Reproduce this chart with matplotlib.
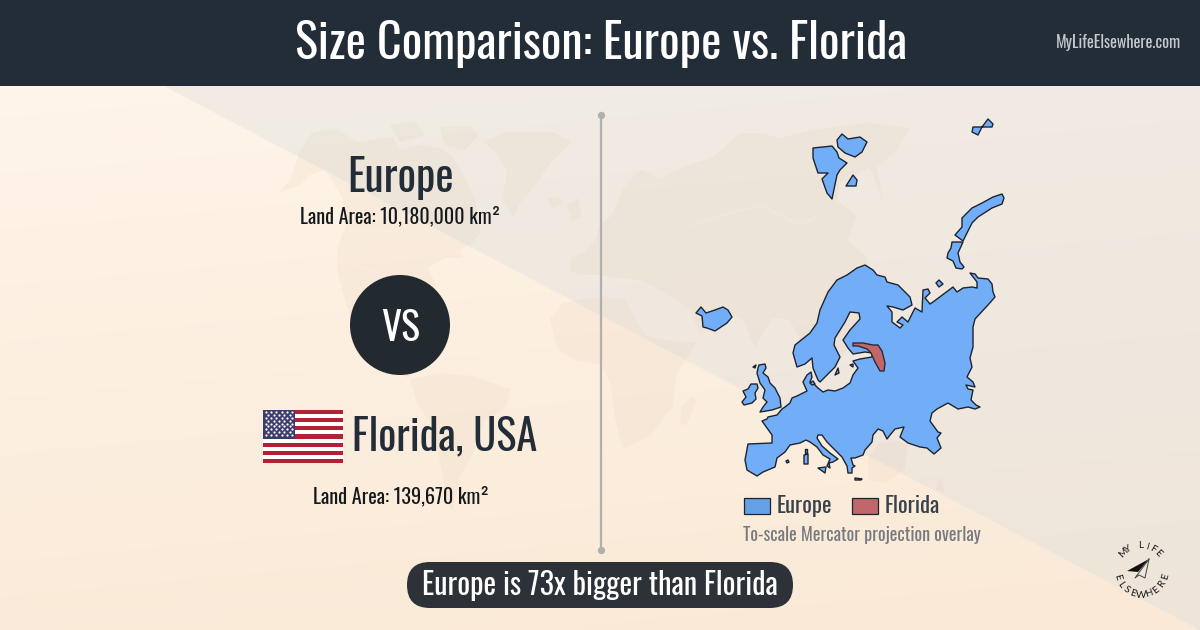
import numpy as np
import matplotlib
matplotlib.use("Agg")
import matplotlib.pyplot as plt
from matplotlib.patches import Rectangle, Circle, FancyBboxPatch
from matplotlib.textpath import TextPath
from matplotlib.font_manager import FontProperties, fontManager

TITLE = "Size Comparison: Europe vs. Florida"
SITE = "MyLifeElsewhere.com"
NAME_A = "Europe"
NAME_B = "Florida, USA"
AREA_A = "Land Area: 10,180,000 km²"
AREA_B = "Land Area: 139,670 km²"
VERDICT = "Europe is 73x bigger than Florida"
LEGEND_A = "Europe"
LEGEND_B = "Florida"
NOTE = "To-scale Mercator projection overlay"

# Outlines
europe_main = [(762,421),(767,419),(768,417),(777,415),(782,409),(785,407),(790,403),(792,398),(797,396),(803,393),(807,391),
 (803,382),(807,375),(811,372),(812,377),(810,382),(815,385),(818,388),(823,392),(828,390),(835,391),(843,388),(850,383),(853,375),
 (858,368),(853,361),(860,359),(872,357),(872,353),(865,352),(853,354),(848,348),(843,340),(850,330),(860,319),(859,313),(850,312),
 (845,322),(835,338),(834,345),(840,357),(835,367),(827,375),(820,382),(818,380),(813,368),(812,358),(805,364),(797,367),(793,353),
 (795,345),(805,337),(810,333),(817,323),(820,310),(828,292),(837,280),(847,275),(857,268),(865,265),(873,270),(877,275),(885,277),
 (887,282),(898,285),(910,297),(912,305),(903,310),(893,307),(887,306),(892,312),(892,322),(900,328),(903,325),(897,322),(902,317),
 (908,322),(915,308),(922,312),(923,290),(928,289),(930,293),(925,298),(930,304),(933,302),(953,287),(957,292),(963,288),(972,287),
 (977,288),(977,282),(970,273),(975,274),(978,278),(988,279),(992,284),(993,292),(995,297),(988,305),(975,319),(973,327),(973,347),
 (970,358),(972,367),(967,377),(973,382),(975,387),(966,385),(968,389),(973,390),(971,400),(976,405),(980,407),(975,409),(968,407),
 (958,409),(948,403),(937,409),(932,413),(930,421),(938,432),(941,433),(937,438),(941,448),(934,454),(927,448),(920,447),(908,443),
 (900,437),(904,427),(895,429),(890,435),(887,439),(883,431),(878,429),(873,435),(872,442),(865,450),(863,455),(855,458),(851,458),
 (853,465),(855,466),(852,468),(852,473),(848,473),(847,466),(842,457),(835,450),(827,442),(822,435),(818,435),(817,438),(822,446),
 (830,453),(838,459),(833,462),(829,463),(830,468),(827,466),(830,459),(823,455),(817,447),(810,442),(806,440),(800,443),(790,445),
 (785,452),(777,458),(775,467),(763,472),(757,476),(747,470),(745,460),(748,444),(772,443),(772,435)]
great_britain = [(758,368),(759,365),(765,364),(766,368),(763,373),(768,377),(770,383),(775,388),(780,398),(781,407),(772,410),(760,412),(763,407),(767,402),(763,398),(765,390),(760,383),(757,373)]
ireland = [(751,384),(757,384),(758,388),(755,393),(756,399),(752,403),(744,405),(742,402),(746,397),(743,391),(748,389)]
shetland = [(753,367),(756,365),(755,368)]
iceland = [(696,313),(701,307),(706,313),(715,310),(723,307),(728,310),(732,317),(727,323),(715,331),(707,328),(703,327),(702,316)]
svalbard_a = [(813,148),(832,146),(837,152),(839,158),(847,163),(840,170),(837,175),(832,199),(827,193),(822,179),(828,173),(818,173),(813,158)]
svalbard_b = [(837,140),(842,134),(848,139),(860,137),(867,142),(862,152),(855,157),(845,153),(838,147)]
svalbard_c = [(846,186),(853,175),(857,180),(856,186)]
franz_josef = [(973,127),(982,127),(988,119),(993,124),(992,127),(982,127),(978,135),(972,132)]
novaya_n = [(955,235),(962,227),(962,218),(972,208),(982,203),(993,197),(1002,194),(1004,198),(1002,204),(992,208),(978,217),(972,223),(963,241)]
novaya_s = [(952,242),(963,242),(958,253),(960,262),(964,267),(962,269),(956,268),(953,261),(947,258),(948,253),(951,248)]
kolguev = [(936,283),(939,280),(943,284),(939,287)]
gotland = [(835,375),(838,368),(839,373)]
saaremaa = [(850,365),(853,364),(853,367)]
zealand = [(810,383),(813,381),(815,384),(812,385)]
sicily = [(818,468),(826,467),(825,473)]
sardinia = [(804,455),(808,454),(808,464),(804,464)]
corsica = [(805,449),(807,449),(807,453),(805,453)]
mallorca = [(786,461),(788,460),(789,462),(787,463)]
crete = [(855,478),(862,479),(861,480),(855,480)]
europe_parts = [europe_main, great_britain, ireland, shetland, iceland, svalbard_a, svalbard_b, svalbard_c, franz_josef,
                novaya_n, novaya_s, kolguev, gotland, saaremaa, zealand, sicily, sardinia, corsica, mallorca, crete]
florida = [(853,343),(863,343),(873,345),(878,345),(882,351),(885,363),(884,371),(880,371),(875,362),(871,353),(867,349),(858,346),(853,346)]

world_n_america = [(293,172),(300,150),(312,133),(335,128),(357,142),(393,137),(400,150),(420,145),(440,148),(453,157),(465,178),(475,200),(481,232),(472,243),(460,250),(463,258),(445,258),(428,268),(436,285),(430,292),(420,280),(400,280),(385,283),(375,300),(385,330),(395,340),(395,360),(415,372),(408,378),(395,370),(375,355),(355,330),(345,300),(337,270),(337,248),(345,228),(343,198),(325,170),(310,175),(300,185),(280,192),(290,180)]
world_baffin = [(440,127),(470,126),(478,136),(465,150),(445,145)]
world_arctic = [(390,125),(415,122),(425,135),(400,142)]
world_greenland = [(483,142),(507,132),(553,132),(572,142),(550,163),(537,183),(520,203),(513,217),(503,200),(507,170),(497,153)]
world_iceland = [(547,199),(560,197),(563,204),(553,208)]
world_s_america = [(410,379),(440,373),(473,376),(510,389),(507,406),(483,423),(473,453),(460,476),(453,509),(460,513),(450,509),(440,463),(433,426),(417,403)]
world_africa = [(550,319),(563,303),(600,296),(625,300),(646,336),(665,340),(696,343),(677,373),(673,406),(650,436),(623,449),(615,419),(611,386),(602,365),(575,360),(557,349)]
world_madagascar = [(692,396),(696,402),(686,426),(680,422),(682,406)]
world_eurasia = [(570,258),(585,252),(595,240),(600,225),(612,215),(622,190),(640,170),(660,178),(690,165),(713,157),(740,133),(760,133),(780,138),(813,130),(867,123),(910,128),(897,150),(877,167),(883,203),(870,167),(840,183),(837,200),(857,217),(847,240),(867,257),(873,290),(860,330),(840,360),(800,340),(790,320),(772,318),(755,347),(743,320),(720,310),(715,325),(700,335),(690,310),(660,290),(640,280),(620,278),(600,275),(578,275),(570,270)]
world_uk = [(567,205),(578,198),(582,215),(572,222)]
world_australia = [(880,443),(895,440),(908,445),(905,470),(885,483),(868,480),(868,458)]
world_nz = [(940,478),(945,492),(936,490)]
world_parts = [world_n_america, world_baffin, world_arctic, world_greenland, world_iceland, world_s_america, world_africa,
               world_madagascar, world_eurasia, world_uk, world_australia, world_nz]
world_border_us = [(347,230),(400,232),(425,248),(445,250)]
world_border_mex = [(350,263),(385,275)]
world_border_asia = [(690,225),(760,205),(800,225),(820,215)]

LOGO_TOP = "MY LIFE"
LOGO_BOTTOM = "ELSEWHERE"
plane_wing = [(1149,559),(1127,571),(1138,572)]
plane_body = [(1149,559),(1135,578),(1139,575),(1145,578),(1149,559)]

installed = {f.name for f in fontManager.ttflist}
FONT = next((n for n in ("Oswald", "Fjalla One", "Roboto Condensed", "Roboto") if n in installed), "DejaVu Sans")
LOGO_FONT = next((n for n in ("Lato", "Roboto") if n in installed), "DejaVu Sans")
DARK = "#222d38"

fig = plt.figure(figsize=(12, 6.3), dpi=100)
ax = fig.add_axes([0, 0, 1, 1])
ax.set_xlim(0, 1200)
ax.set_ylim(630, 0)
ax.axis("off")


def fitted(s, x0, x1, base, color, family=FONT, zorder=10):
    fp = FontProperties(family=family)
    bb = TextPath((0, 0), s, size=100, prop=fp).get_extents()
    size_px = 100 * (x1 - x0) / bb.width
    left = x0 - bb.x0 * size_px / 100
    return ax.text(left, base, s, fontsize=size_px * 0.72, family=family,
                   color=color, ha="left", va="baseline", zorder=zorder)


# background gradient
yy, xx = np.mgrid[0:1:64j, 0:1:64j]
t = np.clip(yy * 0.85 + xx * 0.15, 0, 1)[..., None]
c0 = np.array([255, 246, 235]) / 255
c1 = np.array([250, 233, 214]) / 255
ax.imshow(c0 + (c1 - c0) * t, extent=(0, 1200, 630, 0), aspect="auto", zorder=0, interpolation="bilinear")
ax.set_xlim(0, 1200)
ax.set_ylim(630, 0)

# grey diagonal overlay
ax.fill([0, 1200, 1200], [0, 0, 630], color="#d9dcdf", alpha=0.34, lw=0, zorder=1)

# faint world map
for part in world_parts:
    xs, ys = zip(*part)
    ax.fill(xs, ys, color="#b98a55", alpha=0.05, lw=0, zorder=2)
for line in (world_border_us, world_border_mex, world_border_asia):
    xs, ys = zip(*line)
    ax.plot(xs, ys, color="#fff6ea", alpha=0.3, lw=0.8, zorder=2.5)

# header
ax.add_patch(Rectangle((0, 0), 1200, 86, color=DARK, lw=0, zorder=5))
fitted(TITLE, 297, 905, 59, "white")
fitted(SITE, 1057, 1180, 48, "#c6cacd")

# left column
fitted(NAME_A, 350, 452, 192, DARK)
fitted(AREA_A, 301, 499, 223, "#14181c")
ax.add_patch(Circle((400, 325), 50, color="#22292f", lw=0, zorder=6))
fitted("VS", 382, 419, 341, "white")
fitted(NAME_B, 355, 537, 450, DARK)
fitted(AREA_B, 314, 488, 503, "#14181c")

# flag
stripe = 53 / 13
for i in range(13):
    ax.add_patch(Rectangle((263, 410 + i * stripe), 80, stripe, lw=0, zorder=6,
                           color="#b22234" if i % 2 == 0 else "white"))
ax.add_patch(Rectangle((263, 410), 32, stripe * 7, color="#3c3b6e", lw=0, zorder=7))
sx, sy = [], []
for r in range(9):
    n = 6 if r % 2 == 0 else 5
    for c in range(n):
        sx.append(263 + 32 * ((c + (0.5 if r % 2 == 0 else 1.0)) / 6))
        sy.append(410 + stripe * 7 * (r + 0.75) / 10)
ax.scatter(sx, sy, s=2.6, color="white", lw=0, zorder=8)

# divider
ax.plot([601, 601], [115, 550], color="#b0b0b0", lw=1.6, zorder=6, solid_capstyle="butt")
ax.scatter([601, 601], [115, 550], s=28, color="#b0b0b0", lw=0, zorder=6)

# map overlay
for part in europe_parts:
    xs, ys = zip(*part)
    ax.fill(xs, ys, facecolor="#72aef8", edgecolor="#1d2430", lw=1.0, joinstyle="round", zorder=7)
xs, ys = zip(*florida)
ax.fill(xs, ys, facecolor="#c1666b", edgecolor="#2a2a38", lw=1.0, joinstyle="round", zorder=8)

# legend
ax.add_patch(Rectangle((743.5, 498), 26, 16, facecolor="#64a0e8", edgecolor="#1d2430", lw=0.9, zorder=7))
ax.add_patch(Rectangle((852, 498), 26, 16, facecolor="#c1666b", edgecolor="#1d2430", lw=0.9, zorder=7))
fitted(LEGEND_A, 778, 831, 513, "#3b414a")
fitted(LEGEND_B, 886, 939, 513, "#3b414a")
fitted(NOTE, 743.5, 981, 541, "#777a80")

# verdict pill
ax.add_patch(FancyBboxPatch((407, 562), 386, 46, boxstyle="round,pad=0,rounding_size=23",
                            facecolor="#2d3238", edgecolor="none", zorder=9))
fitted(VERDICT, 424, 777, 595, "white")

# logo
lc = (1141, 570)
for i, ch in enumerate(LOGO_TOP):
    a = np.deg2rad(90 + 46 - i * 92 / (len(LOGO_TOP) - 1))
    ax.text(lc[0] + 24 * np.cos(a), lc[1] - 24 * np.sin(a), ch, rotation=np.rad2deg(a) - 90, rotation_mode="anchor",
            fontsize=7.2, family=LOGO_FONT, color="#1a1a1a", ha="center", va="center", zorder=10)
for i, ch in enumerate(LOGO_BOTTOM):
    a = np.deg2rad(270 - 74 + i * 148 / (len(LOGO_BOTTOM) - 1))
    ax.text(lc[0] + 25 * np.cos(a), lc[1] - 25 * np.sin(a), ch, rotation=np.rad2deg(a) - 270, rotation_mode="anchor",
            fontsize=7.2, family=LOGO_FONT, color="#1a1a1a", ha="center", va="center", zorder=10)
xs, ys = zip(*plane_wing)
ax.fill(xs, ys, color="#111111", lw=0, zorder=10)
xs, ys = zip(*plane_body)
ax.plot(xs, ys, color="#444444", lw=0.7, zorder=10)

fig.savefig("out.png", dpi=100)
